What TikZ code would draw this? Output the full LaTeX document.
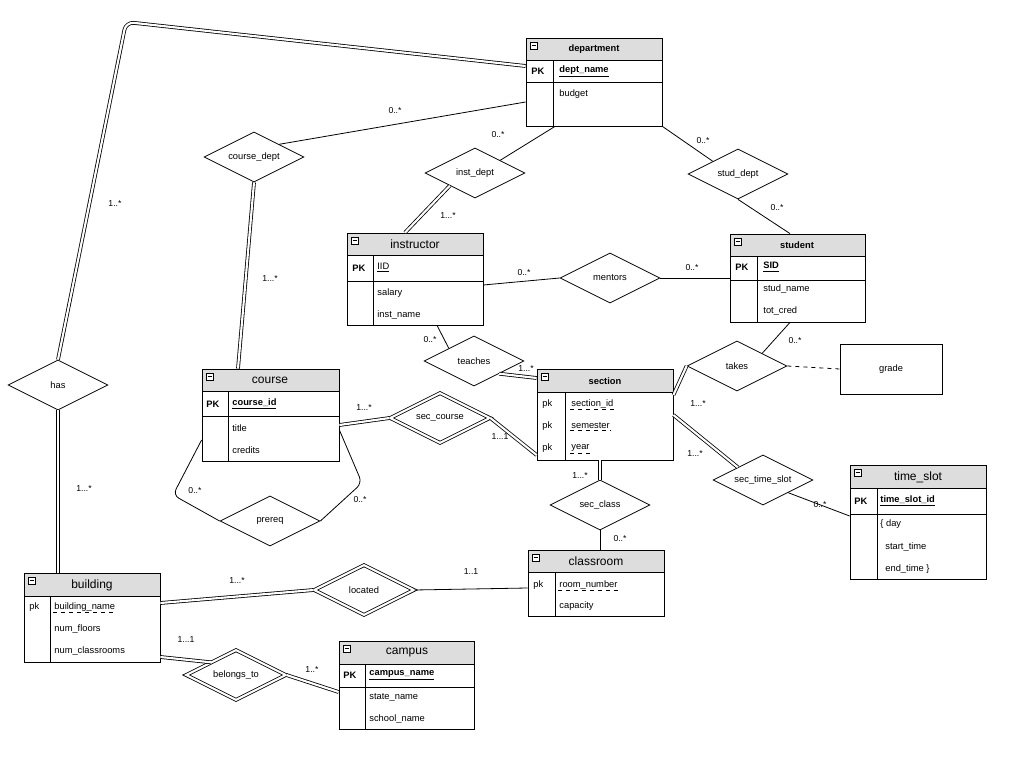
\documentclass[tikz,border=0pt]{standalone}
\usepackage{fontspec}
\setmainfont{Liberation Sans}
\usetikzlibrary{shapes.geometric,fit}

\tikzset{every picture/.style={line width=0.6pt}}
\tikzset{
  tbl/.style={draw, inner sep=0pt},
  hdr/.style={fill={rgb,255:red,221;green,221;blue,221}},
  rel/.style={draw, diamond, aspect=2, minimum width=75pt, minimum height=37.5pt, inner sep=0pt, font=\fontsize{7}{8}\selectfont},
  wrel/.style={rel, double, double distance=1.6pt},
  dbl/.style={double, double distance=1.6pt},
  txt/.style={anchor=west, inner sep=0.75pt, font=\fontsize{7}{8}\selectfont},
  ttl/.style={inner sep=0.75pt, font=\fontsize{9}{10}\selectfont},
  bttl/.style={inner sep=0.75pt, font=\fontsize{7}{8}\selectfont\bfseries},
  card/.style={inner sep=0.75pt, font=\fontsize{6.5}{7}\selectfont},
}
\newcommand{\minusbox}[2]{\draw[line width=0.4pt, fill=white] (#1+4,#2+4) rectangle (#1+11,#2+11); \draw[line width=0.4pt] (#1+5.5,#2+7.5) -- (#1+9.5,#2+7.5);}

\begin{document}
\begin{tikzpicture}[x=0.75pt,y=0.75pt,yscale=-1,xscale=1]
\useasboundingbox (0,0) rectangle (1021,759);

%Tables
%department
\fill[hdr] (526,38) rectangle (662,60);
\node[tbl, fit={(526,38)(662,126)}] (department) {};
\draw (526,60) -- (662,60) (526,82) -- (662,82) (553,60) -- (553,126);
\minusbox{526}{38}
\node[bttl] at (594,49) {department};
\node[txt] at (530,71) {\bfseries PK};
\node[txt] at (558,71) {\bfseries\underline{dept\_name}};
\node[txt] at (558,94) {budget};

%instructor
\fill[hdr] (347,233) rectangle (483,255);
\node[tbl, fit={(347,233)(483,325)}] (instructor) {};
\draw (347,255) -- (483,255) (347,281) -- (483,281) (373,255) -- (373,325);
\minusbox{347}{233}
\node[ttl] at (415,244) {instructor};
\node[txt] at (351,268) {\bfseries PK};
\node[txt] at (376,268) {\underline{IID}};
\node[txt] at (376,293) {salary};
\node[txt] at (376,315) {inst\_name};

%student
\fill[hdr] (730,234) rectangle (865,256);
\node[tbl, fit={(730,234)(865,322)}] (student) {};
\draw (730,256) -- (865,256) (730,280) -- (865,280) (757,256) -- (757,322);
\minusbox{730}{234}
\node[bttl] at (797,245) {student};
\node[txt] at (734,267) {\bfseries PK};
\node[txt] at (762,267) {\bfseries\underline{SID}};
\node[txt] at (762,289) {stud\_name};
\node[txt] at (762,311) {tot\_cred};

%course
\fill[hdr] (202,369) rectangle (339,391);
\node[tbl, fit={(202,369)(339,461)}] (course) {};
\draw (202,391) -- (339,391) (202,416) -- (339,416) (228,391) -- (228,461);
\minusbox{202}{369}
\node[ttl] at (270,380) {course};
\node[txt] at (205,404) {\bfseries PK};
\node[txt] at (231,404) {\bfseries\underline{course\_id}};
\node[txt] at (231,428) {title};
\node[txt] at (231,450) {credits};

%section
\fill[hdr] (537,369) rectangle (673,392);
\node[tbl, fit={(537,369)(673,460)}] (section) {};
\draw (537,392) -- (673,392) (565,392) -- (565,460);
\minusbox{537}{369}
\node[bttl] at (605,381) {section};
\node[txt] at (541,404) {pk};
\node[txt] (secid) at (570,404) {section\_id};
\node[txt] at (541,426) {pk};
\node[txt] (secsem) at (570,426) {semester};
\node[txt] at (541,448) {pk};
\node[txt] (secyear) at (570,448) {year};
\foreach \n in {secid,secsem,secyear}
  \draw[dashed, line width=0.4pt] (\n.south west) -- (\n.south east);

%time_slot
\fill[hdr] (850,465) rectangle (986,488);
\node[tbl, fit={(850,465)(986,579)}] (time_slot) {};
\draw (850,488) -- (986,488) (850,514) -- (986,514) (877,488) -- (877,579);
\minusbox{850}{465}
\node[ttl] at (918,477) {time\_slot};
\node[txt] at (853,501) {\bfseries PK};
\node[txt] at (879,501) {\bfseries\underline{time\_slot\_id}};
\node[txt] at (879,524) {\{ day};
\node[txt] at (884,547) {start\_time};
\node[txt] at (884,569) {end\_time \}};

%classroom
\fill[hdr] (528,550) rectangle (664,572);
\node[tbl, fit={(528,550)(664,616)}] (classroom) {};
\draw (528,572) -- (664,572) (555,572) -- (555,616);
\minusbox{528}{550}
\node[ttl] at (596,561) {classroom};
\node[txt] at (532,585) {pk};
\node[txt] (room) at (558,585) {room\_number};
\draw[dashed, line width=0.4pt] (room.south west) -- (room.south east);
\node[txt] at (558,606) {capacity};

%building
\fill[hdr] (24,573) rectangle (160,596);
\node[tbl, fit={(24,573)(160,662)}] (building) {};
\draw (24,596) -- (160,596) (50,596) -- (50,662);
\minusbox{24}{573}
\node[ttl] at (92,585) {building};
\node[txt] at (28,607) {pk};
\node[txt] (bname) at (53,607) {building\_name};
\draw[dashed, line width=0.4pt] (bname.south west) -- (bname.south east);
\node[txt] at (53,629) {num\_floors};
\node[txt] at (53,651) {num\_classrooms};

%campus
\fill[hdr] (339,641) rectangle (474,664);
\node[tbl, fit={(339,641)(474,729)}] (campus) {};
\draw (339,664) -- (474,664) (339,687) -- (474,687) (365,664) -- (365,729);
\minusbox{339}{641}
\node[ttl] at (407,653) {campus};
\node[txt] at (342,675) {\bfseries PK};
\node[txt] at (368,675) {\bfseries\underline{campus\_name}};
\node[txt] at (368,697) {state\_name};
\node[txt] at (368,719) {school\_name};

%grade
\node[tbl, fit={(840,344)(942,394)}] (grade) {};
\node[txt, anchor=center] at (891,369) {grade};

%Relationships
\node[rel] (course_dept) at (254,157) {course\_dept};
\node[rel] (inst_dept) at (475,173) {inst\_dept};
\node[rel] (stud_dept) at (738,174) {stud\_dept};
\node[rel] (mentors) at (610,278) {mentors};
\node[rel] (teaches) at (474,361) {teaches};
\node[rel] (takes) at (737,366) {takes};
\node[rel] (has) at (58,385) {has};
\node[wrel] (sec_course) at (440,418) {sec\_course};
\node[rel] (sec_class) at (600,505) {sec\_class};
\node[rel] (sec_time_slot) at (763,480) {sec\_time\_slot};
\node[rel] (prereq) at (270,521) {prereq};
\node[wrel] (located) at (364,590) {located};
\node[wrel] (belongs_to) at (236,675) {belongs\_to};

%Connectors
\coordinate (bend) at (126,22);
\draw[dbl, rounded corners=6pt] (has.north) -- (bend) -- (department.west |- 0,66);
\draw (course_dept.north east) -- (department.west |- 0,102);
\draw[dbl] (course_dept.south) -- (course.north -| 238,0);
\draw (inst_dept.north east) -- (department.south -| 555,0);
\draw[dbl] (inst_dept.south west) -- (instructor.north -| 405,0);
\draw (stud_dept.north west) -- (department.south east);
\draw (stud_dept.south) -- (student.north -| 790,0);
\draw (instructor.east |- 0,285) -- (mentors.west);
\draw (mentors.east) -- (student.west |- 0,278);
\draw (instructor.south -| 437,0) -- (teaches.north west);
\draw[dbl] (teaches.south east) -- (section.west |- 0,378);
\draw (takes.north east) -- (student.south -| 790,0);
\draw[dbl] (section.east |- 0,395) -- (takes.west);
\draw[dashed] (takes.east) -- (grade.west);
\draw[dbl] (course.east |- 0,425) -- (sec_course.west);
\draw[dbl] (sec_course.east) -- (section.west |- 0,455);
\draw[dbl] (section.south -| 600,0) -- (sec_class.north);
\draw (sec_class.south) -- (classroom.north -| 600,0);
\draw[dbl] (section.east |- 0,415) -- (sec_time_slot.north west);
\draw (sec_time_slot.south east) -- (time_slot.west |- 0,516);
\draw[rounded corners=5pt] (course.west |- 0,440) -- (173,495) -- (prereq.west);
\draw[rounded corners=5pt] (course.east |- 0,430) -- (362,483) -- (prereq.east);
\draw[dbl] (building.east |- 0,603) -- (located.west);
\draw (located.east) -- (classroom.west |- 0,588);
\draw[dbl] (has.south) -- (building.north -| 58,0);
\draw[dbl] (building.east |- 0,657) -- (belongs_to.north west);
\draw[dbl] (belongs_to.east) -- (campus.west |- 0,692);

%Cardinalities
\node[card] at (395,111) {0..*};
\node[card] at (270,279) {1...*};
\node[card] at (498,135) {0..*};
\node[card] at (448,216) {1...*};
\node[card] at (703,141) {0..*};
\node[card] at (777,208) {0..*};
\node[card] at (524,273) {0..*};
\node[card] at (692,268) {0..*};
\node[card] at (430,340) {0..*};
\node[card] at (526,369) {1...*};
\node[card] at (795,341) {0..*};
\node[card] at (698,404) {1...*};
\node[card] at (364,408) {1...*};
\node[card] at (500,437) {1...1};
\node[card] at (580,476) {1...*};
\node[card] at (620,539) {0..*};
\node[card] at (695,454) {1...*};
\node[card] at (820,505) {0..*};
\node[card] at (195,491) {0..*};
\node[card] at (360,500) {0..*};
\node[card] at (237,581) {1...*};
\node[card] at (471,572) {1..1};
\node[card] at (186,640) {1...1};
\node[card] at (312,670) {1..*};
\node[card] at (115,204) {1..*};
\node[card] at (84,489) {1...*};
\end{tikzpicture}
\end{document}
